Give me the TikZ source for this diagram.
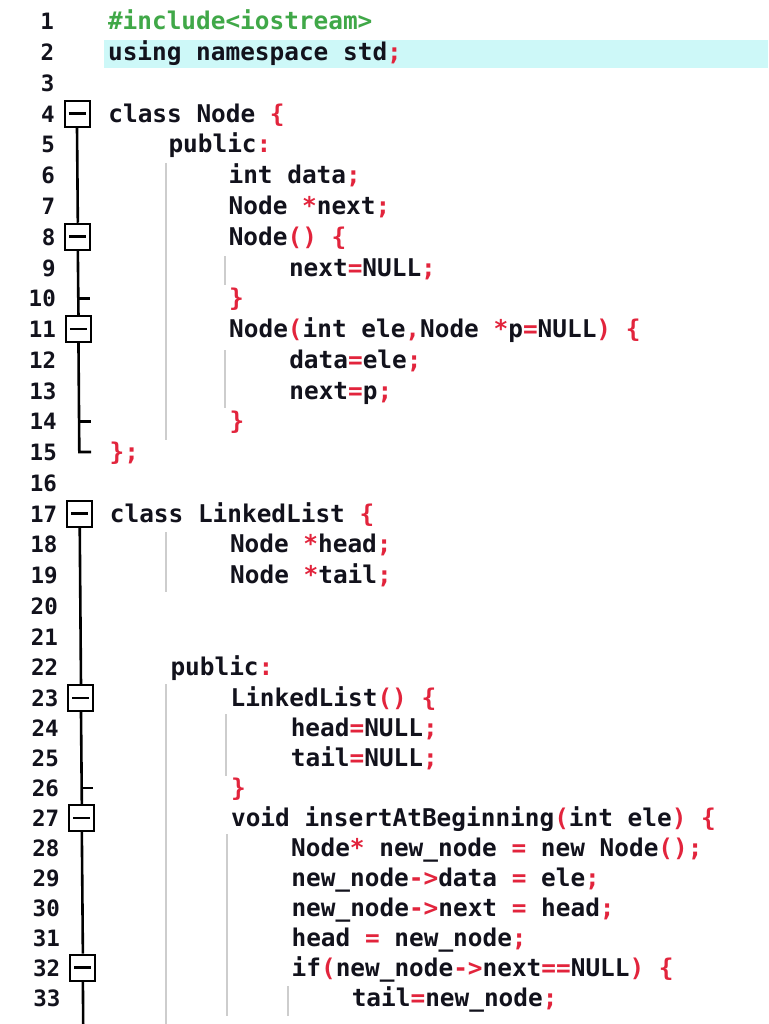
\documentclass[tikz,border=0pt]{standalone}
\usepackage{fontspec}
\newfontfamily\codefont{DejaVu Sans Mono}
\definecolor{opred}{RGB}{226,36,60}
\definecolor{incgreen}{RGB}{64,168,72}
\definecolor{hlcyan}{RGB}{205,248,248}
\definecolor{guidegray}{RGB}{205,205,205}
\definecolor{ink}{RGB}{18,18,28}
\newcommand\rd[1]{\textcolor{opred}{#1}}
\begin{document}
\begin{tikzpicture}[x=1pt,y=-1pt,
  code/.style={anchor=base west, inner sep=0pt, outer sep=0pt, text=ink,
    font=\codefont\bfseries\fontsize{24.4}{29}\selectfont},
  num/.style={anchor=base east, inner sep=0pt, outer sep=0pt, text=ink,
    font=\codefont\bfseries\fontsize{22.5}{27}\selectfont},
  foldbox/.style={draw=black, line width=2pt, fill=white, minimum width=25pt,
    minimum height=26pt, inner sep=0pt,
    path picture={\draw[line width=2.6pt] ([xshift=-8.5pt]path picture bounding box.center) -- ([xshift=8.5pt]path picture bounding box.center);}},
  gutter/.style={draw=black, line width=2.6pt},
  guideline/.style={draw=guidegray, line width=1.4pt}]
\useasboundingbox (0,0) rectangle (768,1024);
\fill[white] (0,0) rectangle (768,1024);
% current line highlight
\fill[hlcyan] (104,40) rectangle (768,68);
% indent guides
\draw[guideline] (166,163) -- (166,440);
\draw[guideline] (225,256) -- (225,285);
\draw[guideline] (225,350) -- (225,408);
\draw[guideline] (166,532) -- (166,592);
\draw[guideline] (166,684) -- (166,1024);
\draw[guideline] (226,714) -- (226,776);
\draw[guideline] (227,834) -- (227,1016);
\draw[guideline] (288,986) -- (288,1016);
% line numbers
\foreach \k/\y in {1/30,2/60.75,3/91.5,4/122.25,5/153,6/183.75,7/214.5,8/245.25,9/276,10/306.75,11/337.5,12/368.25,13/399,14/429.75,15/460.5,16/491.25,17/522,18/552.75,19/583.5,20/614.25,21/645,22/675.75,23/706.5,24/736.45,25/766.4,26/796.35,27/826.3,28/856.25,29/886.2,30/916.15,31/946.1,32/976.05,33/1006}
  \node[num] (n\k) at ({54+0.2*(\k-1)},\y) {\k};
% fold markers
\node[foldbox] (f4) at (77,113.75) {};
\node[foldbox] (f8) at (77.84,236.75) {};
\node[foldbox] (f11) at (78.47,329) {};
\node[foldbox] (f17) at (79.73,513.5) {};
\node[foldbox] (f23) at (80.99,698) {};
\node[foldbox] (f27) at (81.83,817.8) {};
\node[foldbox] (f32) at (82.88,967.55) {};
\coordinate (t10) at (78.26,298.25);
\coordinate (t10e) at (90,298.25);
\coordinate (t14) at (79.1,421.25);
\coordinate (t14e) at (91,421.25);
\coordinate (t15) at (79.31,452);
\coordinate (t15e) at (91,452);
\coordinate (t26) at (81.62,787.85);
\coordinate (t26e) at (93,787.85);
\coordinate (bot) at (83.2,1024);
\draw[gutter] (f4.south) -- (f8.north);
\draw[gutter] (f8.south) -- (f11.north);
\draw[gutter] (t10) -- (t10e);
\draw[gutter] (f11.south) -- (t15) -- (t15e);
\draw[gutter] (t14) -- (t14e);
\draw[gutter] (f17.south) -- (f23.north);
\draw[gutter] (f23.south) -- (f27.north);
\draw[gutter] (t26) -- (t26e);
\draw[gutter] (f27.south) -- (f32.north);
\draw[gutter] (f32.south) -- (bot);
% code
\node[code] (c1) at (108,30) {\textcolor{incgreen}{\#include<iostream>}};
\node[code] (c2) at (108.1,60.75) {using namespace std\rd{;}};
\node[code] (c4) at (108.4,122.25) {class Node \rd{\{}};
\node[code] (c5) at (168.5,153) {public\rd{:}};
\node[code] (c6) at (228.6,183.75) {int data\rd{;}};
\node[code] (c7) at (228.7,214.5) {Node \rd{*}next\rd{;}};
\node[code] (c8) at (228.8,245.25) {Node\rd{()} \rd{\{}};
\node[code] (c9) at (289,276) {next\rd{=}NULL\rd{;}};
\node[code] (c10) at (229.1,306.75) {\rd{\}}};
\node[code] (c11) at (229.2,337.5) {Node\rd{(}int ele\rd{,}Node \rd{*}p\rd{=}NULL\rd{)} \rd{\{}};
\node[code] (c12) at (289.3,368.25) {data\rd{=}ele\rd{;}};
\node[code] (c13) at (289.4,399) {next\rd{=}p\rd{;}};
\node[code] (c14) at (229.6,429.75) {\rd{\}}};
\node[code] (c15) at (109.7,460.5) {\rd{\};}};
\node[code] (c17) at (109.9,522) {class LinkedList \rd{\{}};
\node[code] (c18) at (230,552.75) {Node \rd{*}head\rd{;}};
\node[code] (c19) at (230.2,583.5) {Node \rd{*}tail\rd{;}};
\node[code] (c22) at (170.5,675.75) {public\rd{:}};
\node[code] (c23) at (230.6,706.5) {LinkedList\rd{()} \rd{\{}};
\node[code] (c24) at (290.8,736.45) {head\rd{=}NULL\rd{;}};
\node[code] (c25) at (290.9,766.4) {tail\rd{=}NULL\rd{;}};
\node[code] (c26) at (231,796.35) {\rd{\}}};
\node[code] (c27) at (231.1,826.3) {void insertAtBeginning\rd{(}int ele\rd{)} \rd{\{}};
\node[code] (c28) at (291.2,856.25) {Node\rd{*} new\_node \rd{=} new Node\rd{();}};
\node[code] (c29) at (291.4,886.2) {new\_node\rd{->}data \rd{=} ele\rd{;}};
\node[code] (c30) at (291.5,916.15) {new\_node\rd{->}next \rd{=} head\rd{;}};
\node[code] (c31) at (291.6,946.1) {head \rd{=} new\_node\rd{;}};
\node[code] (c32) at (291.7,976.05) {if\rd{(}new\_node\rd{->}next\rd{==}NULL\rd{)} \rd{\{}};
\node[code] (c33) at (351.8,1006) {tail\rd{=}new\_node\rd{;}};
\end{tikzpicture}
\end{document}
